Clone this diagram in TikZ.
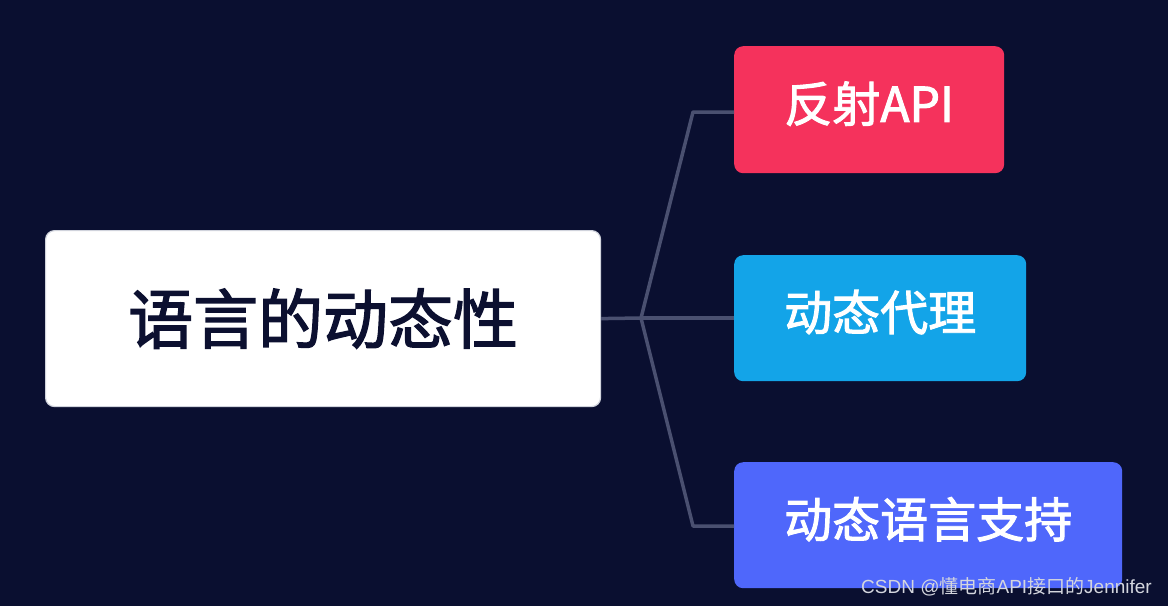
\documentclass[tikz,border=0pt]{standalone}
\usepackage{fontspec}
\setmainfont{Noto Sans CJK SC}
\newfontfamily\cjkb{Noto Sans CJK SC}[FakeBold=2]
\definecolor{bgc}{HTML}{0A0F30}
\definecolor{linec}{HTML}{4A5070}
\definecolor{redc}{HTML}{F5325C}
\definecolor{bluec}{HTML}{13A4E8}
\definecolor{purc}{HTML}{4F67FB}
\definecolor{inkc}{HTML}{0C1030}
\definecolor{rootborder}{HTML}{D0D3DC}
\definecolor{wmc}{HTML}{D4D6DE}
\newcommand{\liftup}[1]{\raisebox{0pt}[\height][\dimexpr\depth+12pt\relax]{#1}}
\tikzset{
  box/.style={rounded corners=9pt, inner sep=0pt, anchor=north west, text=white, font=\cjkb\fontsize{48}{52}\selectfont},
  conn/.style={draw=linec, line width=3.5pt},
}
\begin{document}
\begin{tikzpicture}[x=1pt,y=-1pt]
\fill[bgc] (0,0) rectangle (1168,606);
\useasboundingbox (0,0) rectangle (1168,606);
\coordinate (j) at (641,318);
\coordinate (ja) at (693,112);
\coordinate (jc) at (693,526);
\node[box, fill=white, draw=rootborder, line width=1.2pt, minimum width=555pt, minimum height=176pt, text=inkc, font=\cjkb\fontsize{65}{70}\selectfont] (root) at (45,230) {语言的动态性};
\node[box, fill=redc, minimum width=270pt, minimum height=127pt] (a) at (734,46) {\liftup{反射API}};
\node[box, fill=bluec, minimum width=292pt, minimum height=126pt] (b) at (734,255) {\liftup{动态代理}};
\node[box, fill=purc, minimum width=388pt, minimum height=126pt] (c) at (734,462) {\liftup{动态语言支持}};
\draw[conn] (root.east) -- (j);
\draw[conn, line join=round] (j) -- (ja) -- (a.west |- ja);
\draw[conn] (j) -- (b.west |- j);
\draw[conn, line join=round] (j) -- (jc) -- (c.west |- jc);
\node[anchor=east, text=wmc, font=\fontsize{19}{21}\selectfont, inner sep=0pt] (wm) at (1152,587) {\fontspec{Liberation Sans}CSDN @\fontspec{Noto Sans CJK SC}懂电商\fontspec{Liberation Sans}API\fontspec{Noto Sans CJK SC}接口的\fontspec{Liberation Sans}Jennifer};
\end{tikzpicture}
\end{document}
